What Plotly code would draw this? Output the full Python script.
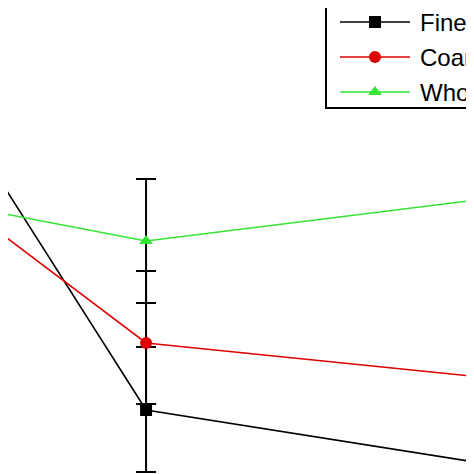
import plotly.graph_objects as go

x = [-1, 0, 1]
fine = [-147, 410, 466]
coarse = [76, 343, 379]
whole = [173, 241, 197]
fine_err_plus = [0, 62, 0]
fine_err_minus = [0, 63, 0]
coarse_err_plus = [0, 61, 0]
coarse_err_minus = [0, 72, 0]
whole_err = [0, 62, 0]
names = ["Fine particles", "Coarse particles", "Whole"]
colors = ["black", "#e00000", "#33e633"]
symbols = ["square", "circle", "triangle-up"]

fig = go.Figure()
series = [(fine, fine_err_plus, fine_err_minus), (coarse, coarse_err_plus, coarse_err_minus), (whole, whole_err, whole_err)]
for (y, ep, em), c, s in zip(series, colors, symbols):
    fig.add_trace(go.Scatter(x=x, y=y, mode="lines+markers", line=dict(color=c, width=1.6),
                             marker=dict(color=c, symbol=s, size=12),
                             error_y=dict(type="data", array=ep, arrayminus=em, color="black", thickness=2, width=10),
                             showlegend=False, cliponaxis=True))

# manual legend in pixel coordinates
ly = [22, 57, 92]
for yy, c, s, n in zip(ly, colors, symbols, names):
    fig.add_trace(go.Scatter(x=[340, 375, 410], y=[yy]*3, xaxis="x2", yaxis="y2", mode="lines",
                             line=dict(color=c, width=1.6), showlegend=False, hoverinfo="skip"))
    fig.add_trace(go.Scatter(x=[375], y=[yy], xaxis="x2", yaxis="y2", mode="markers",
                             marker=dict(color=c, symbol=s, size=12), showlegend=False, hoverinfo="skip"))
    fig.add_annotation(x=418, y=yy, xref="x2", yref="y2", text=n, showarrow=False, xanchor="left",
                       font=dict(family="Liberation Sans", size=24, color="black"))
fig.add_shape(type="rect", x0=326, x1=540, y0=-5, y1=108, xref="x2", yref="y2",
              line=dict(color="black", width=2))

fig.update_layout(width=474, height=474, margin=dict(l=0, r=0, t=0, b=0),
                  plot_bgcolor="white", paper_bgcolor="white",
                  xaxis=dict(range=[-0.390, 0.949], visible=False),
                  yaxis=dict(range=[482, 8], visible=False),
                  xaxis2=dict(range=[8, 482], visible=False, overlaying="x"),
                  yaxis2=dict(range=[482, 8], visible=False, overlaying="y"))
fig.write_html("out.html")
